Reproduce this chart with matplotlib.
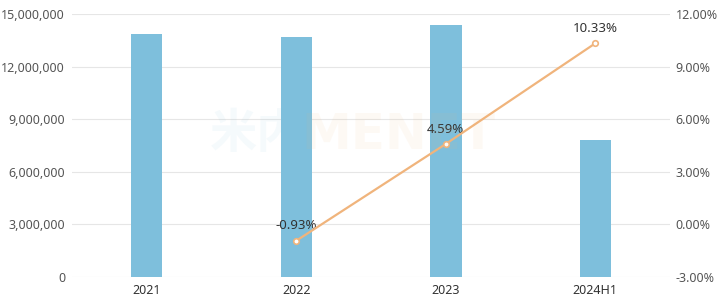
import matplotlib
matplotlib.use("Agg")
import matplotlib.pyplot as plt
from matplotlib.ticker import FuncFormatter, FixedLocator

plt.rcParams['font.family'] = ['Noto Sans', 'Noto Sans CJK SC', 'DejaVu Sans']

categories = ["2021", "2022", "2023", "2024H1"]
bar_values = [13850000, 13700000, 14350000, 7820000]
growth_cats = ["2022", "2023", "2024H1"]
growth_values = [-0.93, 4.59, 10.33]
left_ticks = [0, 3000000, 6000000, 9000000, 12000000, 15000000]
right_ticks = [-3, 0, 3, 6, 9, 12]

fig = plt.figure(figsize=(7.25, 3.01), dpi=100)
ax = fig.add_axes([0.0993, 0.0797, 0.825, 0.8738])
ax2 = ax.twinx()

x = list(range(len(categories)))
ax.bar(x, bar_values, width=0.21, color="#7EBFDC", zorder=2)
ax.set_xlim(-0.5, len(categories) - 0.5)
ax.set_ylim(0, 15000000)
ax.yaxis.set_major_locator(FixedLocator(left_ticks))
ax.yaxis.set_major_formatter(FuncFormatter(lambda v, p: f"{int(v):,}"))
ax.set_xticks(x)
ax.set_xticklabels(categories)
ax.grid(axis="y", color="#E6E6E6", linewidth=0.8, zorder=0)
ax.set_axisbelow(True)

gx = [categories.index(c) for c in growth_cats]
ax2.plot(gx, growth_values, color="#F0B47C", linewidth=1.6, marker="o",
         markersize=4, markerfacecolor="white", markeredgecolor="#F0B47C",
         markeredgewidth=1.2, zorder=5)
for xi, v in zip(gx, growth_values):
    ax2.annotate(f"{v:.2f}%", (xi, v), xytext=(0, 6), textcoords="offset points",
                 ha="center", va="bottom", fontsize=9.5, color="#333333")
ax2.set_ylim(-3, 12)
ax2.yaxis.set_major_locator(FixedLocator(right_ticks))
ax2.yaxis.set_major_formatter(FuncFormatter(lambda v, p: f"{v:.2f}%"))

for a in (ax, ax2):
    for s in a.spines.values():
        s.set_visible(False)
    a.tick_params(length=0, labelsize=9, labelcolor="#555555")
ax.tick_params(axis="y", pad=5)
ax2.tick_params(axis="y", pad=4)
ax.tick_params(axis="x", pad=5, labelcolor="#333333")

# watermark
fig.text(0.355, 0.55, "米内", fontsize=34, color="#7EBFDC", alpha=0.07,
         ha="center", va="center", fontweight="bold")
fig.text(0.55, 0.55, "MENET", fontsize=36, color="#F0B47C", alpha=0.08,
         ha="center", va="center", fontweight="bold",
         family=["DejaVu Sans"])

fig.savefig("out.png", dpi=100)
